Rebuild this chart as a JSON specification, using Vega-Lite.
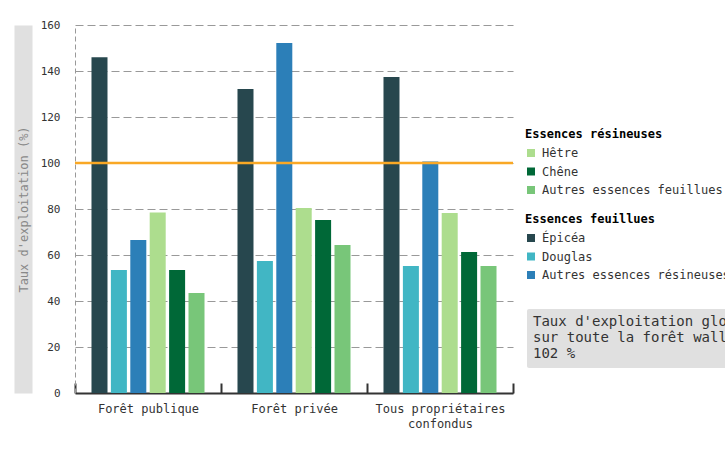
{
  "$schema": "https://vega.github.io/schema/vega-lite/v6.json",
  "width": 438,
  "height": 368,
  "autosize": "none",
  "padding": {"left": 75, "top": 25, "right": 212, "bottom": 57},
  "datasets": {
    "bars": [
      {"group": "Forêt publique", "species": "Épicéa", "kind": "res", "value": 146},
      {"group": "Forêt publique", "species": "Douglas", "kind": "res", "value": 53.5},
      {"group": "Forêt publique", "species": "Autres essences résineuses", "kind": "res", "value": 66.5},
      {"group": "Forêt publique", "species": "Hêtre", "kind": "feu", "value": 78.5},
      {"group": "Forêt publique", "species": "Chêne", "kind": "feu", "value": 53.5},
      {"group": "Forêt publique", "species": "Autres essences feuillues", "kind": "feu", "value": 43.5},
      {"group": "Forêt privée", "species": "Épicéa", "kind": "res", "value": 132.2},
      {"group": "Forêt privée", "species": "Douglas", "kind": "res", "value": 57.4},
      {"group": "Forêt privée", "species": "Autres essences résineuses", "kind": "res", "value": 152.2},
      {"group": "Forêt privée", "species": "Hêtre", "kind": "feu", "value": 80.4},
      {"group": "Forêt privée", "species": "Chêne", "kind": "feu", "value": 75.2},
      {"group": "Forêt privée", "species": "Autres essences feuillues", "kind": "feu", "value": 64.3},
      {"group": "Tous propriétaires confondus", "species": "Épicéa", "kind": "res", "value": 137.4},
      {"group": "Tous propriétaires confondus", "species": "Douglas", "kind": "res", "value": 55.2},
      {"group": "Tous propriétaires confondus", "species": "Autres essences résineuses", "kind": "res", "value": 100.6},
      {"group": "Tous propriétaires confondus", "species": "Hêtre", "kind": "feu", "value": 78.3},
      {"group": "Tous propriétaires confondus", "species": "Chêne", "kind": "feu", "value": 61.3},
      {"group": "Tous propriétaires confondus", "species": "Autres essences feuillues", "kind": "feu", "value": 55.2}
    ],
    "ref": [{"ref": 100, "note": "global"}]
  },
  "layer": [
    {
      "data": {"name": "bars"},
      "transform": [{"filter": "datum.kind === 'feu'"}],
      "mark": {"type": "bar"},
      "encoding": {
        "x": {
          "field": "group", "type": "nominal",
          "sort": ["Forêt publique", "Forêt privée", "Tous propriétaires confondus"],
          "scale": {"paddingInner": 0, "paddingOuter": 0},
          "axis": {
            "title": null, "labelAngle": 0, "labelFont": "DejaVu Sans Mono", "labelFontSize": 12,
            "labelColor": "#333", "domainColor": "#333", "domainWidth": 2,
            "tickColor": "#333", "tickWidth": 2, "tickSize": -10, "tickBand": "extent",
            "labelPadding": 20, "labelLineHeight": 15,
            "labelExpr": "datum.label === 'Tous propriétaires confondus' ? ['Tous propriétaires', 'confondus'] : datum.label"
          }
        },
        "xOffset": {
          "field": "species", "type": "nominal",
          "scale": {"domain": ["Épicéa", "Douglas", "Autres essences résineuses", "Hêtre", "Chêne", "Autres essences feuillues"], "paddingInner": 0.175, "paddingOuter": 0.85}
        },
        "y": {
          "field": "value", "type": "quantitative",
          "scale": {"domain": [0, 160]},
          "axis": {
            "orient": "left", "title": null, "values": [0, 20, 40, 60, 80, 100, 120, 140, 160],
            "labelFont": "DejaVu Sans Mono", "labelFontSize": 11, "labelColor": "#333",
            "ticks": false, "labelPadding": 15,
            "domainColor": "#999", "domainDash": [5, 3], "domainWidth": 1,
            "grid": true, "gridColor": "#999", "gridDash": [8, 4], "gridWidth": 1
          }
        },
        "color": {
          "field": "species", "type": "nominal",
          "scale": {"domain": ["Hêtre", "Chêne", "Autres essences feuillues"], "range": ["#addd8e", "#006837", "#78c679"]},
          "legend": {"title": "Essences résineuses", "orient": "none", "legendX": 450, "legendY": 104}
        }
      }
    },
    {
      "data": {"name": "bars"},
      "transform": [{"filter": "datum.kind === 'res'"}],
      "mark": {"type": "bar"},
      "encoding": {
        "x": {"field": "group", "type": "nominal", "sort": ["Forêt publique", "Forêt privée", "Tous propriétaires confondus"]},
        "xOffset": {
          "field": "species", "type": "nominal",
          "scale": {"domain": ["Épicéa", "Douglas", "Autres essences résineuses", "Hêtre", "Chêne", "Autres essences feuillues"]}
        },
        "y": {"field": "value", "type": "quantitative", "axis": null},
        "color": {
          "field": "species", "type": "nominal",
          "scale": {"domain": ["Épicéa", "Douglas", "Autres essences résineuses"], "range": ["#27474e", "#41b6c4", "#2c7fb8"]},
          "legend": {"title": "Essences feuillues", "orient": "none", "legendX": 450, "legendY": 189}
        }
      }
    },
    {
      "data": {"name": "ref"},
      "mark": {"type": "rule", "color": "#f9a825", "strokeWidth": 2.5},
      "encoding": {
        "y": {
          "field": "ref", "type": "quantitative",
          "axis": {
            "orient": "left", "offset": 52, "domainColor": "#e0e0e0", "domainWidth": 18,
            "ticks": false, "labels": false, "grid": false,
            "title": "Taux d'exploitation (%)", "titleX": 0, "titleY": 184, "titleAngle": -90,
            "titleBaseline": "middle", "titleAlign": "center", "titleColor": "#888",
            "titleFont": "DejaVu Sans Mono", "titleFontSize": 12, "titleFontWeight": "normal"
          }
        },
        "opacity": {
          "field": "note", "type": "ordinal",
          "scale": {"range": [0.85]},
          "legend": {
            "orient": "none", "legendX": 452, "legendY": 284,
            "title": ["Taux d'exploitation global", "sur toute la forêt wallonne :", "102 %"],
            "titleFont": "DejaVu Sans Mono", "titleFontSize": 14, "titleFontWeight": "normal",
            "titleColor": "#333", "titleLineHeight": 16, "titleLimit": 1000, "titlePadding": 0,
            "fillColor": "#e0e0e0", "padding": 6, "cornerRadius": 2,
            "symbolSize": 0, "symbolStrokeWidth": 0, "labelExpr": "''", "labelFontSize": 1
          }
        }
      }
    }
  ],
  "resolve": {"scale": {"color": "independent"}, "axis": {"y": "independent"}},
  "config": {
    "view": {"stroke": null},
    "font": "DejaVu Sans Mono",
    "legend": {
      "titleFont": "DejaVu Sans Mono", "titleFontSize": 12, "titleFontWeight": "bold", "titleColor": "#000",
      "labelFont": "DejaVu Sans Mono", "labelFontSize": 12, "labelColor": "#333",
      "symbolType": "square", "symbolSize": 64, "symbolStrokeWidth": 0, "symbolOpacity": 1,
      "rowPadding": 6.5, "titlePadding": 6, "padding": 0, "labelOffset": 5, "labelLimit": 400
    }
  }
}
